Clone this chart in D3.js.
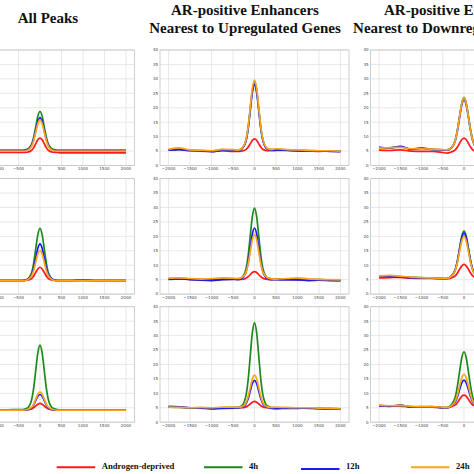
<!DOCTYPE html>
<html>
<head>
<meta charset="utf-8">
<title>AR enhancer profiles</title>
<script src="https://d3js.org/d3.v7.min.js"></script>
<style>
    body { margin: 0; background: #fff; }
    .tick-label { font-family: "DejaVu Sans", sans-serif; font-size: 4px; fill: #444; }
    .title { font-family: "Liberation Serif", "Times New Roman", serif; font-weight: bold; font-size: 15px; fill: #111; }
    .legend-text { font-family: "Liberation Serif", "Times New Roman", serif; font-weight: bold; font-size: 8.7px; fill: #111; }
</style>
</head>
<body>
<div id="chart"></div>
<script>
// positions relative to peak centre (bp)
var xPos = [-2000,-1750,-1500,-1250,-1000,-750,-500,-400,-300,-200,-150,-100,-50,0,50,100,150,200,300,400,500,750,1000,1250,1500,1750,2000];
var xTicks = [-2000,-1500,-1000,-500,0,500,1000,1500,2000];
var yTicks = [0,5,10,15,20,25,30,35,40];

var seriesNames = ["Androgen-deprived", "4h", "12h", "24h"];
var seriesColors = ["#ff1a1a", "#1b8a1b", "#1a1aff", "#ffa51a"];

var colTitles = [["All Peaks"],
    ["AR-positive Enhancers", "Nearest to Upregulated Genes"],
    ["AR-positive Enhancers", "Nearest to Downregulated Genes"]];

// column 1: all peaks
var a1Red    = [4.6,4.6,4.6,4.5,4.5,4.5,4.5,4.5,4.6,5.2,6.1,7.5,8.9,9.5,8.9,7.5,6.1,5.2,4.6,4.5,4.4,4.4,4.4,4.4,4.4,4.4,4.4];
var a1Green  = [5.4,5.4,5.3,5.3,5.3,5.3,5.3,5.3,5.6,7.2,9.6,13.3,17.1,18.7,17.1,13.3,9.6,7.2,5.6,5.3,5.3,5.3,5.3,5.3,5.3,5.3,5.3];
var a1Blue   = [5.2,5.2,5.2,5.1,5.1,5.1,5.1,5.1,5.3,6.7,8.8,12.0,15.2,16.6,15.2,12.0,8.8,6.7,5.3,5.1,5.1,5.1,5.1,5.1,5.1,5.1,5.1];
var a1Orange = [5.1,5.1,5.0,5.0,5.0,5.0,5.0,5.0,5.2,6.5,8.5,11.5,14.5,15.8,14.5,11.5,8.5,6.5,5.2,5.0,5.0,5.0,5.0,5.0,5.0,5.0,5.0];

var a2Red    = [4.7,4.7,4.7,4.7,4.7,4.7,4.7,4.7,4.8,5.3,6.2,7.5,8.7,9.3,8.7,7.5,6.2,5.3,4.8,4.7,4.7,4.7,4.7,4.7,4.7,4.7,4.7];
var a2Green  = [4.7,4.7,4.7,4.7,4.7,4.7,4.7,4.7,5.1,7.2,10.5,15.6,20.6,22.8,20.6,15.6,10.5,7.2,5.1,4.7,4.7,4.7,4.8,4.7,4.7,4.7,4.7];
var a2Blue   = [4.7,4.7,4.7,4.7,4.7,4.7,4.7,4.7,5.0,6.5,8.8,12.3,15.9,17.4,15.9,12.3,8.8,6.5,5.0,4.7,4.7,4.7,4.8,4.7,4.7,4.7,4.7];
var a2Orange = [4.6,4.6,4.6,4.6,4.6,4.6,4.6,4.6,4.9,6.2,8.0,11.0,13.9,15.1,13.9,11.0,8.0,6.2,4.9,4.6,4.6,4.6,4.6,4.6,4.6,4.6,4.6];

var a3Red    = [4.2,4.2,4.2,4.2,4.2,4.2,4.2,4.2,4.3,4.6,5.0,5.6,6.2,6.5,6.2,5.6,5.0,4.6,4.3,4.2,4.2,4.2,4.2,4.2,4.2,4.2,4.2];
var a3Green  = [4.3,4.3,4.3,4.3,4.3,4.3,4.4,4.4,4.8,7.5,11.5,17.8,24.0,26.7,24.0,17.8,11.5,7.5,4.8,4.4,4.3,4.3,4.3,4.3,4.3,4.3,4.3];
var a3Blue   = [4.2,4.2,4.2,4.2,4.2,4.2,4.2,4.2,4.3,4.9,5.9,7.5,9.0,9.6,9.0,7.5,5.9,4.9,4.3,4.2,4.2,4.2,4.2,4.2,4.2,4.2,4.2];
var a3Orange = [4.2,4.2,4.2,4.2,4.2,4.2,4.2,4.2,4.4,5.1,6.2,8.0,9.7,10.5,9.7,8.0,6.2,5.1,4.4,4.2,4.2,4.2,4.2,4.2,4.2,4.2,4.2];

// column 2: nearest to upregulated genes
var b1Red    = [5.4,5.6,5.2,5.0,4.9,5.1,4.9,4.9,5.0,5.5,6.3,7.5,8.7,9.2,8.7,7.5,6.3,5.5,5.1,5.1,5.2,5.3,5.0,5.1,4.9,5.0,4.9];
var b1Green  = [5.5,5.8,5.3,5.2,5.0,5.5,5.3,5.2,5.8,8.6,12.7,19.4,26.1,29.0,26.1,19.4,12.7,8.6,5.8,5.5,5.6,5.4,5.3,5.2,5.1,5.0,5.0];
var b1Blue   = [5.3,5.5,5.1,5.1,4.8,5.2,5.2,5.1,5.7,8.4,12.5,18.9,25.2,28.0,25.2,18.9,12.5,8.4,5.7,5.3,5.4,5.2,5.1,5.0,5.0,4.9,4.8];
var b1Orange = [5.6,6.1,5.4,5.3,5.1,5.6,5.5,5.3,5.9,8.8,13.1,19.9,26.7,29.6,26.7,19.9,13.1,8.8,5.9,5.5,5.8,5.5,5.4,5.2,5.1,5.1,5.0];

var b2Red    = [5.2,5.3,5.1,5.0,4.9,5.1,5.2,5.1,5.1,5.5,6.0,6.7,7.5,7.8,7.5,6.7,6.0,5.5,5.1,5.0,5.1,5.2,5.0,4.9,5.0,4.9,4.8];
var b2Green  = [5.4,5.5,5.2,5.1,5.0,5.3,5.3,5.2,5.7,8.6,13.1,20.0,26.8,29.8,26.8,20.0,13.1,8.6,5.7,5.3,5.2,5.2,5.3,5.1,5.0,4.9,4.8];
var b2Blue   = [5.1,5.3,5.0,4.8,4.7,5.0,5.1,5.0,5.4,7.5,10.7,15.7,20.8,22.9,20.8,15.7,10.7,7.5,5.4,5.0,5.0,4.9,4.9,4.7,4.8,4.7,4.6];
var b2Orange = [5.5,5.6,5.4,5.2,5.4,5.6,5.5,5.4,5.7,7.5,10.3,14.5,18.8,20.6,18.8,14.5,10.3,7.5,5.7,5.3,5.2,5.4,5.6,5.3,5.1,5.0,4.9];

var b3Red    = [5.3,5.2,5.0,4.9,4.8,5.0,4.9,5.0,5.0,5.3,5.7,6.3,6.9,7.2,6.9,6.3,5.7,5.3,5.0,4.9,4.8,4.9,5.0,4.9,4.8,4.7,4.6];
var b3Green  = [5.2,5.1,5.0,4.9,4.9,5.0,5.1,5.1,5.6,9.1,14.4,22.7,31.0,34.5,31.0,22.7,14.4,9.1,5.6,5.1,5.0,4.9,4.9,4.8,4.8,4.7,4.6];
var b3Blue   = [5.5,5.3,5.0,4.9,4.6,4.8,4.9,4.9,5.2,6.3,8.0,10.7,13.4,14.5,13.4,10.7,8.0,6.3,5.2,4.8,4.7,4.8,4.8,4.9,4.7,4.6,4.6];
var b3Orange = [5.2,5.1,5.0,5.1,5.0,5.2,5.2,5.1,5.3,6.7,8.8,11.9,15.0,16.3,15.0,11.9,8.8,6.7,5.3,5.1,5.2,5.1,5.0,5.0,4.9,4.8,4.7];

// column 3: nearest to downregulated genes
var c1Red    = [5.3,5.2,5.4,5.0,4.9,4.9,4.5,4.3,4.7,5.5,6.5,7.8,9.0,9.5,9.0,7.8,6.5,5.5,4.8,4.6,4.8,5.0,5.0,5.1,5.0,5.0,5.0];
var c1Green  = [6.2,6.0,6.5,5.6,5.9,5.6,5.4,5.4,6.1,9.1,12.7,17.5,21.7,23.5,21.7,17.5,12.7,9.1,6.1,5.5,5.5,5.5,5.5,5.5,5.5,5.5,5.5];
var c1Blue   = [6.3,6.1,6.6,5.7,6.0,5.6,5.4,5.3,6.0,8.9,12.4,17.0,21.1,22.8,21.1,17.0,12.4,8.9,6.0,5.4,5.5,5.5,5.5,5.5,5.5,5.5,5.5];
var c1Orange = [6.0,6.2,6.3,5.8,5.8,5.7,5.5,5.4,6.1,9.0,12.6,17.3,21.5,23.3,21.5,17.3,12.6,9.0,6.1,5.5,5.6,5.5,5.5,5.5,5.5,5.5,5.5];

var c2Red    = [5.6,5.7,5.8,5.5,5.4,5.4,5.3,5.3,5.6,6.4,7.4,8.7,9.8,10.3,9.8,8.7,7.4,6.4,5.6,5.4,5.4,5.4,5.4,5.4,5.4,5.4,5.4];
var c2Green  = [6.0,6.3,6.1,5.8,5.7,5.6,5.4,5.4,6.2,8.8,12.0,16.3,20.2,21.8,20.2,16.3,12.0,8.8,6.2,5.5,5.5,5.5,5.5,5.5,5.5,5.5,5.5];
var c2Blue   = [6.2,6.0,5.9,5.7,5.6,5.5,5.4,5.4,6.1,8.6,11.7,15.8,19.5,21.1,19.5,15.8,11.7,8.6,6.1,5.5,5.5,5.5,5.5,5.5,5.5,5.5,5.5];
var c2Orange = [6.3,6.5,6.2,5.9,5.7,5.6,5.4,5.4,6.1,8.4,11.3,15.1,18.5,20.0,18.5,15.1,11.3,8.4,6.1,5.5,5.5,5.5,5.5,5.5,5.5,5.5,5.5];

var c3Red    = [5.6,5.7,5.6,5.3,5.4,5.2,5.0,5.0,5.4,6.0,6.9,8.0,9.0,9.4,9.0,8.0,6.9,6.0,5.4,5.2,5.2,5.2,5.2,5.2,5.2,5.2,5.2];
var c3Green  = [5.8,5.6,5.8,5.4,5.3,5.3,5.1,5.1,6.0,9.0,12.9,17.9,22.5,24.4,22.5,17.9,12.9,9.0,6.0,5.3,5.3,5.3,5.3,5.3,5.3,5.3,5.3];
var c3Blue   = [5.7,5.5,5.9,5.2,5.3,5.4,5.0,5.0,5.6,7.1,9.0,11.4,13.7,14.6,13.7,11.4,9.0,7.1,5.6,5.2,5.2,5.2,5.2,5.2,5.2,5.2,5.2];
var c3Orange = [5.9,5.7,5.8,5.5,5.4,5.4,5.2,5.1,5.7,7.5,9.8,12.7,15.5,16.6,15.5,12.7,9.8,7.5,5.7,5.3,5.3,5.3,5.3,5.3,5.3,5.3,5.3];

// panels[row][col] -> [red, green, blue, orange]
var panels = [
    [[a1Red, a1Green, a1Blue, a1Orange], [b1Red, b1Green, b1Blue, b1Orange], [c1Red, c1Green, c1Blue, c1Orange]],
    [[a2Red, a2Green, a2Blue, a2Orange], [b2Red, b2Green, b2Blue, b2Orange], [c2Red, c2Green, c2Blue, c2Orange]],
    [[a3Red, a3Green, a3Blue, a3Orange], [b3Red, b3Green, b3Blue, b3Orange], [c3Red, c3Green, c3Blue, c3Orange]]
];

var W = 474, H = 474;
var colLeft = [-54.5, 160, 370.5];
var colWidth = [189, 189, 187];
var rowTop = [50, 178.6, 306.7];
var axH = 115.5;

var svg = d3.select("#chart").append("svg")
    .attr("width", W)
    .attr("height", H);

var fmt = function (d) { return d < 0 ? "\u2212" + Math.abs(d) : String(d); };

panels.forEach(function (row, r) {
    row.forEach(function (lines, c) {
        var x = d3.scaleLinear().domain([-2200, 2200]).range([0, colWidth[c]]);
        var y = d3.scaleLinear().domain([0, 40]).range([axH, 0]);

        var g = svg.append("g")
            .attr("transform", "translate(" + colLeft[c] + "," + rowTop[r] + ")");

        // grid
        g.selectAll(".vgrid").data(xTicks).enter().append("line")
            .attr("x1", function (d) { return x(d); })
            .attr("x2", function (d) { return x(d); })
            .attr("y1", 0).attr("y2", axH)
            .style("stroke", "#dedede").style("stroke-width", 0.7);
        g.selectAll(".hgrid").data(yTicks).enter().append("line")
            .attr("y1", function (d) { return y(d); })
            .attr("y2", function (d) { return y(d); })
            .attr("x1", 0).attr("x2", colWidth[c])
            .style("stroke", "#dedede").style("stroke-width", 0.7);

        // frame
        g.append("rect")
            .attr("width", colWidth[c]).attr("height", axH)
            .style("fill", "none").style("stroke", "#c4c4c4").style("stroke-width", 0.8);

        // tick labels (skip the ones that fall wholly outside the page)
        var onPage = function (px) { var a = colLeft[c] + px; return a > -6 && a < W + 6; };
        g.selectAll(".xl").data(xTicks.filter(function (d) { return onPage(x(d)); })).enter().append("text")
            .attr("class", "tick-label")
            .attr("x", function (d) { return x(d); })
            .attr("y", axH + 4.6)
            .attr("text-anchor", "middle")
            .text(fmt);
        if (onPage(-4)) {
            g.selectAll(".yl").data(yTicks).enter().append("text")
                .attr("class", "tick-label")
                .attr("x", -2)
                .attr("y", function (d) { return y(d) + 1.4; })
                .attr("text-anchor", "end")
                .text(fmt);
        }

        var line = d3.line()
            .x(function (d, i) { return x(xPos[i]); })
            .y(function (d) { return y(d); })
            .curve(d3.curveMonotoneX);

        lines.forEach(function (vals, k) {
            g.append("path")
                .attr("d", line(vals))
                .style("fill", "none")
                .style("stroke", seriesColors[k])
                .style("stroke-width", 1.7);
        });
    });
});

// column titles
var titleX = [48, 245, 458];
colTitles.forEach(function (lines, c) {
    var ys = lines.length === 1 ? [23.3] : [15, 32.7];
    lines.forEach(function (t, i) {
        svg.append("text")
            .attr("class", "title")
            .attr("x", titleX[c])
            .attr("y", ys[i])
            .attr("text-anchor", "middle")
            .text(t);
    });
});

// legend
var legX = [56.7, 204, 301, 411];
var legY = [467.3, 467.3, 469, 467.3];
seriesNames.forEach(function (name, k) {
    svg.append("line")
        .attr("x1", legX[k]).attr("x2", legX[k] + 38.5)
        .attr("y1", legY[k]).attr("y2", legY[k])
        .style("stroke", seriesColors[k]).style("stroke-width", 2);
    svg.append("text")
        .attr("class", "legend-text")
        .attr("x", legX[k] + 45)
        .attr("y", 469.4)
        .text(name);
});
</script>
</body>
</html>
